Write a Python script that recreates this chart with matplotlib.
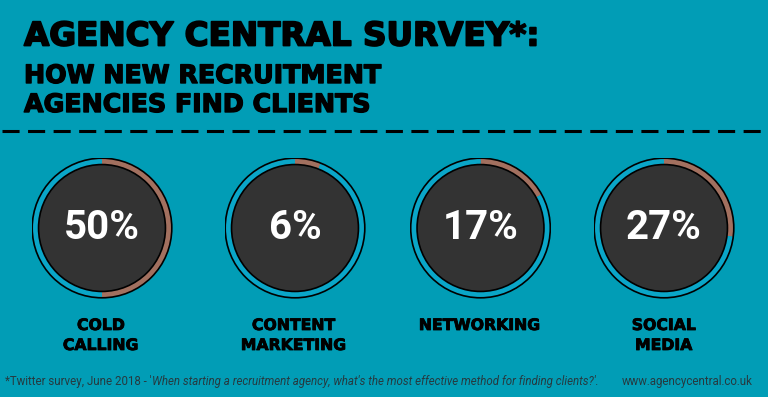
import matplotlib
matplotlib.use("Agg")
import matplotlib.pyplot as plt
from matplotlib.patches import Circle
import matplotlib.patheffects as pe

# ---- data ----
categories = ["COLD\nCALLING", "CONTENT\nMARKETING", "NETWORKING", "SOCIAL\nMEDIA"]
percentages = [50, 6, 17, 27]
title = "AGENCY CENTRAL SURVEY*:"
subtitle = ["HOW NEW RECRUITMENT", "AGENCIES FIND CLIENTS"]
footer_plain = "*Twitter survey, June 2018 - '"
footer_italic = "When starting a recruitment agency, what's the most effective method for finding clients?'."
website = "www.agencycentral.co.uk"

# ---- style ----
W, H = 768, 397
BG = "#019db6"
RING_BLUE = "#0aa6c8"
BROWN = "#a2705f"
DISK = "#333333"
centers_x = [102, 295, 480.5, 664]
center_y = 228
label_x = [101, 294, 480, 664]
R = 70.5

def heavy(w):
    return [pe.withStroke(linewidth=w, foreground="black")]

fig = plt.figure(figsize=(W / 100, H / 100), dpi=100, facecolor=BG)
ax = fig.add_axes([0, 0, 1, 1])
ax.set_xlim(0, W)
ax.set_ylim(H, 0)
ax.axis("off")
ax.set_facecolor(BG)

# titles
ax.text(24, 45.5, title, fontsize=23.5, fontweight="bold", family="DejaVu Sans",
        color="black", va="baseline", ha="left", path_effects=heavy(1.3))
ax.text(24, 83, subtitle[0], fontsize=18.2, fontweight="bold", family="DejaVu Sans",
        color="black", va="baseline", ha="left", path_effects=heavy(1.0))
ax.text(24, 112, subtitle[1], fontsize=18.2, fontweight="bold", family="DejaVu Sans",
        color="black", va="baseline", ha="left", path_effects=heavy(1.0))

# dashed separator
lw = 2.2
ax.plot([1.5, W], [130.5, 130.5], color="black", lw=lw,
        dashes=(12.3 / lw, 6.1 / lw), dash_capstyle="butt")

# donut circles
for cx, pct, lab, lx in zip(centers_x, percentages, categories, label_x):
    iax = fig.add_axes([(cx - R) / W, 1 - (center_y + R) / H, 2 * R / W, 2 * R / H])
    iax.pie([pct, 100 - pct], colors=[BROWN, RING_BLUE], startangle=90,
            counterclock=False, radius=0.99,
            wedgeprops=dict(width=0.095, linewidth=0))
    iax.set_xlim(-1, 1)
    iax.set_ylim(-1, 1)
    iax.set_aspect("equal")
    iax.axis("off")
    iax.add_patch(Circle((0, 0), 0.9, facecolor=DISK, edgecolor="black", lw=1.2, zorder=5))
    iax.add_patch(Circle((0, 0), 0.99, facecolor="none", edgecolor="black", lw=1.2, zorder=5))
    iax.text(0, 0, f"{pct}%", fontsize=29, fontweight="bold", family="Roboto",
             color="white", ha="center", va="center", zorder=6)
    for i, line in enumerate(lab.split("\n")):
        ax.text(lx, 330 + 20 * i, line, fontsize=11.3, fontweight="bold",
                family="DejaVu Sans", color="black", ha="center", va="baseline",
                path_effects=heavy(0.6))

# footer
fs = 8.3
t1 = ax.text(5, 385, footer_plain, fontsize=fs, family="Roboto", color="#263a40",
             ha="left", va="baseline")
fig.canvas.draw()
r = fig.canvas.get_renderer()
bb = t1.get_window_extent(renderer=r)
ax.text(5 + bb.width, 385, footer_italic, fontsize=fs, family="Roboto", style="italic",
        color="#263a40", ha="left", va="baseline")
ax.text(753, 385, website, fontsize=fs, family="Roboto", color="#263a40",
        ha="right", va="baseline")

fig.savefig("out.png", dpi=100, facecolor=BG)
